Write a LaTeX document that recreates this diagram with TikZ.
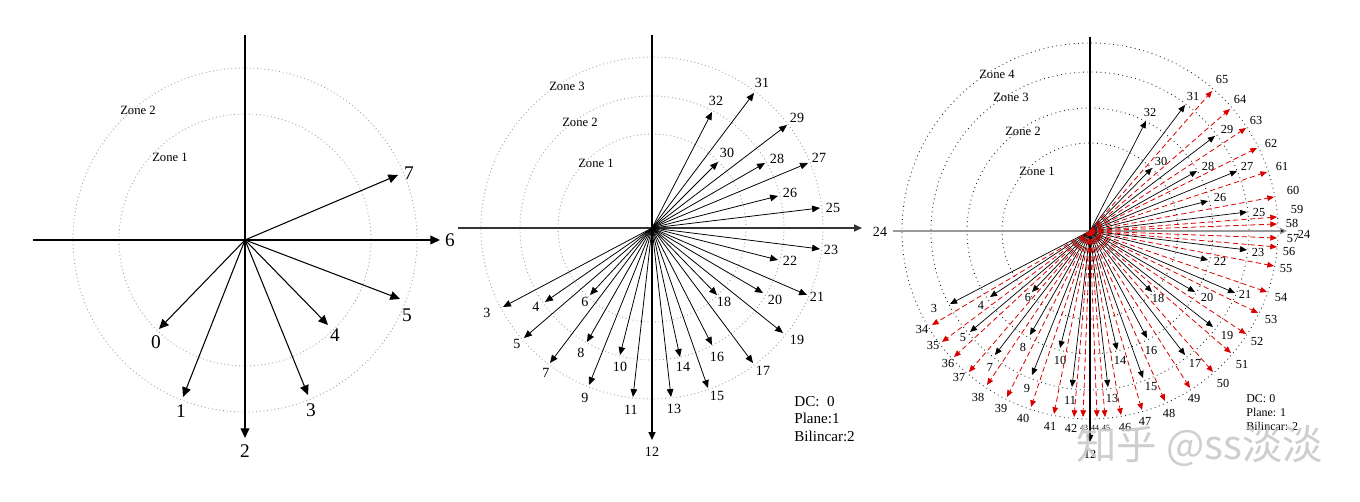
\documentclass[tikz,border=0pt]{standalone}
\usepackage{fontspec}
\setmainfont{Liberation Serif}
\newfontfamily\cjkfont{Noto Sans CJK SC}
\usetikzlibrary{arrows.meta}

\begin{document}
\begin{tikzpicture}[x=0.02cm, y=-0.02cm,
    axis/.style={line width=0.7pt},
    arrA/.style={line width=0.6pt, -{Triangle[length=5.5pt,width=5pt]}},
    arrB/.style={line width=0.45pt, -{Triangle[length=4.5pt,width=3.8pt]}},
    arrC/.style={line width=0.4pt, -{Triangle[length=4pt,width=3.4pt]}},
    redarr/.style={draw=red!85!black, line width=0.45pt, dash pattern=on 3pt off 1.8pt, -{Triangle[length=3.8pt,width=3.2pt]}},
    zonegray/.style={gray!75, line width=0.5pt, dash pattern=on 0.5pt off 1.6pt},
    zoneblack/.style={black!85, line width=0.5pt, dash pattern=on 0.5pt off 2pt},
    lblA/.style={inner sep=0pt, font=\fontsize{11}{13}\selectfont},
    lblB/.style={inner sep=0pt, font=\fontsize{8}{9}\selectfont},
    lblC/.style={inner sep=0pt, font=\fontsize{7}{8}\selectfont},
    zonelbl/.style={inner sep=0pt, font=\fontsize{7.2}{8}\selectfont},
    info/.style={inner sep=0pt, anchor=west, align=left}]

\useasboundingbox (0,0) rectangle (1360,502);

% Left: 8 modes
\coordinate (o1) at (245,240);
\draw[zonegray] (o1) circle[radius=126];
\draw[zonegray] (o1) circle[radius=172];
\coordinate (v1) at (245,35);
\coordinate (h1) at (33,240);
\coordinate (t1-2) at (245,438);
\coordinate (t1-6) at (440,240);
\draw[axis, -{Triangle[length=5.5pt,width=5pt]}] (v1) -- (t1-2);
\draw[axis, -{Triangle[length=5.5pt,width=5pt]}] (h1) -- (t1-6);
\node[lblA] (l1-2) at (245,451) {2};
\node[lblA] (l1-6) at (450,240) {6};
\foreach \n/\tx/\ty/\lx/\ly in {0/159/329/156/342, 1/183/397/181/411, 3/308/395/311/410,
    4/328/325/335/335, 5/400/299/407/315, 7/398/175/409/173} {
  \coordinate (t1-\n) at (\tx,\ty);
  \draw[arrA] (o1) -- (t1-\n);
  \node[lblA] (l1-\n) at (\lx,\ly) {\n};
}
\node[zonelbl] (z1-2) at (138,110) {Zone 2};
\node[zonelbl] (z1-1) at (170,157) {Zone 1};

% Middle: 33 modes
\coordinate (o2) at (652,228);
\foreach \r in {94,132,171}
  \draw[zonegray] (o2) circle[radius=\r];
\coordinate (v2) at (652,35);
\coordinate (h2) at (458,228);
\coordinate (t2-12) at (652,440);
\coordinate (t2-24) at (862,228);
\draw[axis, -{Triangle[length=4.5pt,width=4pt]}] (v2) -- (t2-12);
\draw[axis, black!80, -{Triangle[length=4.5pt,width=4pt]}] (h2) -- (t2-24);
\node[lblB] (l2-12) at (652,452) {12};
\node[lblB] (l2-24) at (880,232) {24};
\foreach \n/\tx/\ty/\lx/\ly in {3/503/307/487/313, 4/545/302/536/307, 5/524/338/517/344,
    6/590/295/585/302, 7/550/363/546/373, 8/587/342/581/353, 9/589/385/585/398,
    10/620/355/620/367, 11/633/397/631/410, 13/671/397/674/409, 14/680/357/683/367,
    15/708/388/717/396, 16/712/345/717/357, 17/753/363/763/371, 18/717/295/724/302,
    19/783/333/797/340, 20/763/293/775/300, 21/807/295/817/297, 22/778/260/790/261,
    23/820/249/831/250, 25/820/208/833/208, 26/778/196/790/193, 27/808/163/819/158,
    28/765/163/777/159, 29/787/125/797/118, 30/718/162/727/153, 31/754/93/762/83,
    32/712/112/716/101} {
  \coordinate (t2-\n) at (\tx,\ty);
  \draw[arrB] (o2) -- (t2-\n);
  \node[lblB] (l2-\n) at (\lx,\ly) {\n};
}
\node[zonelbl] (z2-3) at (567,86) {Zone 3};
\node[zonelbl] (z2-2) at (580,122) {Zone 2};
\node[zonelbl] (z2-1) at (596,163) {Zone 1};
\node[info, font=\fontsize{8.6}{10}\selectfont] (dc2) at (794,419) {DC:~~0\\Plane:1\\Bilincar:2};

% Right: 65 modes
\coordinate (o3) at (1090,231);
\foreach \r in {88,123,159,188}
  \draw[zoneblack] (o3) circle[radius=\r];
\coordinate (v3) at (1090,37);
\coordinate (h3) at (893,231);
\coordinate (t3-12) at (1090,442);
\coordinate (t3-24) at (1287,231);
\draw[axis, -{Triangle[length=4pt,width=3.6pt]}] (v3) -- (t3-12);
\draw[axis, gray!80, -{Triangle[length=4pt,width=3.6pt,fill=black]}] (h3) -- (t3-24);
\node[lblC] (l3-12) at (1090,454) {12};
\node[lblC] (l3-24) at (1304,234) {24};
\foreach \n/\tx/\ty/\lx/\ly in {3/950/304/934/308, 4/990/297/981/305, 5/970/332/963/338,
    6/1032/292/1028/297, 7/995/355/990/367, 8/1030/335/1023/347, 9/1032/375/1027/388,
    10/1060/348/1060/360, 11/1072/387/1070/400, 13/1108/387/1112/398, 14/1117/350/1120/360,
    15/1143/378/1151/387, 16/1147/338/1151/350, 17/1185/355/1195/363, 18/1152/292/1158/298,
    19/1213/327/1227/335, 20/1195/292/1207/297, 21/1235/293/1245/294, 22/1208/260/1220/261,
    23/1247/250/1258/252, 25/1247/212/1259/212, 26/1208/201/1220/197, 27/1237/171/1247/166,
    28/1197/171/1208/166, 29/1215/136/1227/129, 30/1152/168/1161/161, 31/1185/105/1193/96,
    32/1146/121/1150/112} {
  \coordinate (t3-\n) at (\tx,\ty);
  \draw[arrC] (o3) -- (t3-\n);
  \node[lblC] (l3-\n) at (\lx,\ly) {\n};
}
\foreach \n/\tx/\ty/\lx/\ly in {34/932/325/922/329, 35/942/342/933/345, 36/954/357/948/363,
    37/969/372/959/377, 38/987/385/978/397, 39/1007/397/1001/408, 40/1031/407/1023/418,
    41/1054/414/1050/426, 42/1074/417/1071/428, 46/1121/415/1125/427, 47/1142/410/1145/421,
    48/1165/401/1169/413, 49/1190/388/1194/398, 50/1213/372/1223/383, 51/1231/353/1242/365,
    52/1246/334/1257/341, 53/1258/313/1271/319, 54/1267/292/1281/298, 55/1274/266/1286/269,
    56/1277/247/1289/251, 57/1277/238/1293/239, 58/1277/224/1292/223, 59/1277/217/1297/209,
    60/1274/197/1293/190, 61/1267/172/1282/166, 62/1257/148/1271/143, 63/1246/128/1256/120,
    64/1230/109/1240/99, 65/1212/91/1222/79} {
  \coordinate (t3-\n) at (\tx,\ty);
  \draw[redarr] (o3) -- (t3-\n);
  \node[lblC] (l3-\n) at (\lx,\ly) {\n};
}
% crowded ones near the bottom axis
\foreach \n/\tx/\ty/\lx in {43/1083/417/1084, 44/1097/417/1095, 45/1105/417/1106} {
  \coordinate (t3-\n) at (\tx,\ty);
  \draw[redarr] (o3) -- (t3-\n);
  \node[inner sep=0pt, font=\fontsize{4.5}{5}\selectfont] (l3-\n) at (\lx,428) {\n};
}
\node[zonelbl] (z3-4) at (997,74) {Zone 4};
\node[zonelbl] (z3-3) at (1011,97) {Zone 3};
\node[zonelbl] (z3-2) at (1023,131) {Zone 2};
\node[zonelbl] (z3-1) at (1037,171) {Zone 1};
\node[info, font=\fontsize{6.8}{8}\selectfont] (dc3) at (1246,413) {DC: 0\\Plane: 1\\Bilincar: 2};

% watermark
\node[inner sep=0pt, anchor=west, text height=0.8em, text depth=0pt, text=gray!45, opacity=0.85,
  font=\cjkfont\fontsize{23}{24}\selectfont] (wm) at (1076,452) {知乎 @ss淡淡};
\end{tikzpicture}
\end{document}
